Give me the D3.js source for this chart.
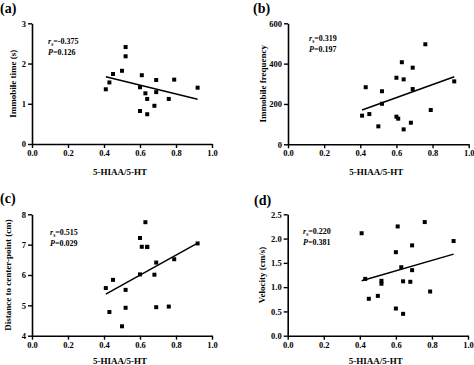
<!DOCTYPE html>
<html>
<head>
<meta charset="utf-8">
<script src="https://cdn.jsdelivr.net/npm/d3@7"></script>
<style>
  body { margin: 0; background: #fff; }
  svg { display: block; }
  text { font-family: "Liberation Serif", "Times New Roman", serif; font-weight: bold; fill: #000; }
</style>
</head>
<body>
<svg width="474" height="365"></svg>
<script>
// 5-HIAA/5-HT ratio, one per animal (shared by all four panels)
var ratio = [0.41, 0.43, 0.45, 0.50, 0.52, 0.52, 0.60, 0.60, 0.61, 0.63, 0.64, 0.64, 0.68, 0.69, 0.69, 0.76, 0.79, 0.92];

var immobileTime = [1.36, 1.53, 1.74, 1.82, 2.18, 2.41, 1.41, 0.82, 1.71, 1.26, 1.12, 0.74, 0.95, 1.59, 1.29, 1.12, 1.60, 1.40];
var immobileFreq = [142, 283, 150, 89, 263, 201, 330, 137, 127, 407, 322, 74, 107, 380, 274, 496, 170, 312];
var distance = [5.57, 4.78, 5.84, 4.31, 5.51, 4.92, 7.22, 6.02, 6.93, 7.74, 6.93, 6.92, 6.01, 6.41, 4.94, 4.96, 6.52, 7.04];
var velocity = [2.11, 1.17, 0.76, 0.82, 1.13, 1.07, 1.72, 0.56, 2.25, 1.41, 1.12, 0.45, 1.11, 1.86, 1.35, 2.34, 0.91, 1.95];

// fitted lines, [x, y] at both ends
var fitTime = [[0.41, 1.67], [0.92, 1.11]];
var fitFreq = [[0.41, 170], [0.92, 335]];
var fitDist = [[0.41, 5.37], [0.92, 7.05]];
var fitVel = [[0.41, 1.13], [0.92, 1.68]];

var xTicks = [0, 0.2, 0.4, 0.6, 0.8, 1.0];

var panels = [
  { tag: "(a)", ylab: "Immobile time (s)", ys: immobileTime, fit: fitTime, ydom: [0, 3], yticks: [0, 1, 2, 3], yfmt: d3.format("d"),
    rs: "=-0.375", p: "=0.126", box: [32, 212, 23.3, 144], tagPos: [0, 13], txt: [48, 44], ylabX: 13, xlabDy: 31 },
  { tag: "(b)", ylab: "Immobile frequency", ys: immobileFreq, fit: fitFreq, ydom: [0, 600], yticks: [0, 200, 400, 600], yfmt: d3.format("d"),
    rs: "=0.319", p: "=0.197", box: [288, 468.7, 23.3, 144.3], tagPos: [253, 13], txt: [309, 41], ylabX: 263, xlabDy: 31 },
  { tag: "(c)", ylab: "Distance to center-point (cm)", ys: distance, fit: fitDist, ydom: [4, 8], yticks: [4, 5, 6, 7, 8], yfmt: d3.format("d"),
    rs: "=0.515", p: "=0.029", box: [32, 212, 214.3, 335.7], tagPos: [0, 203], txt: [50, 235], ylabX: 8, xlabDy: 28.5 },
  { tag: "(d)", ylab: "Velocity (cm/s)", ys: velocity, fit: fitVel, ydom: [0, 2.5], yticks: [0, 0.5, 1, 1.5, 2, 2.5], yfmt: d3.format(".1f"),
    rs: "=0.220", p: "=0.381", box: [287.7, 468, 214.3, 335.7], tagPos: [254, 205], txt: [303, 234], ylabX: 262, xlabDy: 28.5 }
];

var svg = d3.select("svg");

panels.forEach(function(pn) {
  var b = pn.box;
  var x = d3.scaleLinear().domain([0, 1]).range([b[0], b[1]]);
  var y = d3.scaleLinear().domain(pn.ydom).range([b[3], b[2]]);
  var g = svg.append("g");

  var xAxis = g.append("g")
    .attr("transform", "translate(0," + b[3] + ")")
    .call(d3.axisBottom(x).tickValues(xTicks).tickFormat(d3.format(".1f")).tickSize(4).tickSizeOuter(0).tickPadding(2));
  var yAxis = g.append("g")
    .attr("transform", "translate(" + b[0] + ",0)")
    .call(d3.axisLeft(y).tickValues(pn.yticks).tickFormat(pn.yfmt).tickSize(4).tickSizeOuter(0).tickPadding(2));

  [xAxis, yAxis].forEach(function(ax) {
    ax.attr("font-family", null).attr("font-size", null);
    ax.select(".domain").attr("stroke", "#000").attr("stroke-width", 1.6);
    ax.selectAll(".tick line").attr("stroke", "#000").attr("stroke-width", 1.4);
    ax.selectAll(".tick text").style("font-size", "8.5px");
  });

  g.append("text")
    .attr("x", (b[0] + b[1]) / 2 - 2)
    .attr("y", b[3] + pn.xlabDy)
    .attr("text-anchor", "middle")
    .style("font-size", "9px")
    .text("5-HIAA/5-HT");

  g.append("text")
    .attr("transform", "translate(" + pn.ylabX + "," + ((b[2] + b[3]) / 2) + ") rotate(-90)")
    .attr("text-anchor", "middle")
    .attr("dy", "0.35em")
    .style("font-size", "9px")
    .text(pn.ylab);

  g.append("text")
    .attr("x", pn.tagPos[0])
    .attr("y", pn.tagPos[1])
    .style("font-size", "14px")
    .text(pn.tag);

  var t1 = g.append("text").attr("x", pn.txt[0]).attr("y", pn.txt[1]).style("font-size", "8px");
  t1.append("tspan").style("font-style", "italic").text("r");
  t1.append("tspan").attr("dy", 2).style("font-size", "5.5px").text("s");
  t1.append("tspan").attr("dy", -2).text(pn.rs);

  var t2 = g.append("text").attr("x", pn.txt[0]).attr("y", pn.txt[1] + 11).style("font-size", "8px");
  t2.append("tspan").style("font-style", "italic").text("P");
  t2.append("tspan").text(pn.p);

  g.append("line")
    .attr("x1", x(pn.fit[0][0])).attr("y1", y(pn.fit[0][1]))
    .attr("x2", x(pn.fit[1][0])).attr("y2", y(pn.fit[1][1]))
    .attr("stroke", "#000")
    .attr("stroke-width", 1.5);

  g.selectAll("rect.pt")
    .data(ratio.map(function(r, i) { return [r, pn.ys[i]]; }))
    .enter().append("rect")
    .attr("class", "pt")
    .attr("x", function(d) { return x(d[0]) - 2; })
    .attr("y", function(d) { return y(d[1]) - 2; })
    .attr("width", 4)
    .attr("height", 4)
    .attr("fill", "#000");
});
</script>
</body>
</html>
